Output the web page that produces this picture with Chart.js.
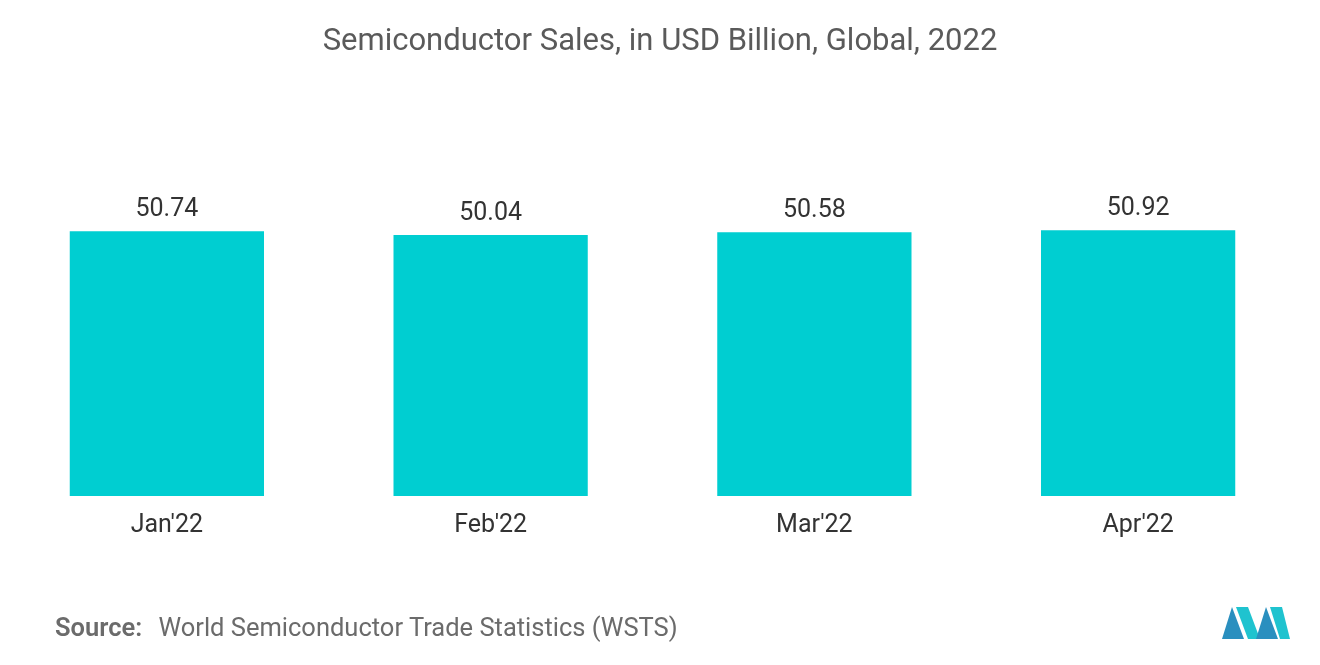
<!DOCTYPE html>
<html><head><meta charset="utf-8">
<script src="https://cdn.jsdelivr.net/npm/chart.js@4"></script>
<style>
body{margin:0;background:#fff;font-family:Roboto,"Open Sans",sans-serif;}
#wrap{position:relative;width:1320px;height:665px;}
#c{position:absolute;left:0;top:0;}
#title{position:absolute;top:21px;left:0;width:1320px;text-align:center;font-size:31px;color:#5a5a5a;}
#src{position:absolute;top:612px;left:55px;font-size:25.5px;color:#6b6b6b;}
#src b{font-weight:600;color:#6b6b6b;margin-right:10px;}
#logo{position:absolute;left:1222px;top:603px;}
</style></head><body>
<div id="wrap">
<canvas id="c" width="1320" height="665"></canvas>
<div id="title">Semiconductor Sales, in USD Billion, Global, 2022</div>
<div id="src"><b>Source:</b> World Semiconductor Trade Statistics (WSTS)</div>
<svg id="logo" width="70" height="36" viewBox="0 0 70 36">
<polygon points="0,36 10,4 22,36" fill="#2a8fbf"/>
<polygon points="14,4 26,4 38,36 26,36" fill="#1fc3cf"/>
<polygon points="34,36 44,4 56,36" fill="#2a8fbf"/>
<polygon points="48,4 60,4 68,36 58,36" fill="#1fc3cf"/>
</svg>
</div>
<script>
const categories=["Jan'22","Feb'22","Mar'22","Apr'22"];
const sales=[50.74,50.04,50.58,50.92];
const labelPlugin={id:'lbl',afterDatasetsDraw(chart){
 const ctx=chart.ctx;const meta=chart.getDatasetMeta(0);
 ctx.save();ctx.font='25px Roboto';ctx.fillStyle='#333';ctx.textAlign='center';ctx.textBaseline='bottom';
 meta.data.forEach((b,i)=>ctx.fillText(sales[i].toFixed(2),b.x,b.y-9));ctx.restore();}};
new Chart(document.getElementById('c'),{type:'bar',
 data:{labels:categories,datasets:[{data:sales,backgroundColor:'#00ced1',barPercentage:0.6,categoryPercentage:1}]},
 options:{responsive:false,animation:false,
  layout:{padding:{top:183,left:5,right:20,bottom:117}},
  plugins:{legend:{display:false},tooltip:{enabled:false}},
  scales:{y:{display:false,min:0,max:60},
   x:{grid:{display:false},border:{display:false},ticks:{padding:7,color:'#333',font:{size:25,family:'Roboto'}}}}},
 plugins:[labelPlugin]});
</script></body></html>
